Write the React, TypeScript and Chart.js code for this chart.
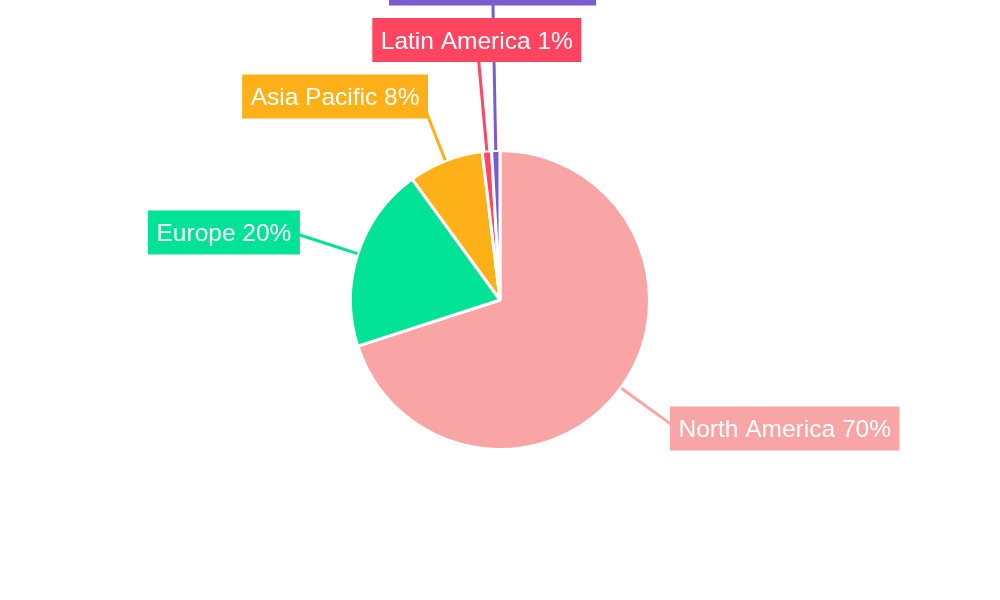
import { useEffect, useRef } from "react";
import { Chart, registerables } from "chart.js";

Chart.register(...registerables);

// ---- data ----
const categories = ["North America", "Europe", "Asia Pacific", "Latin America", "Rest of World"];
const shares = [70, 20, 8.1, 1, 0.9];
const sliceColors = ["#F9A5A5", "#00E396", "#FEB019", "#FF4560", "#775DD0"];

const LABEL_FONT = "24.5px 'Liberation Sans', Arial, Helvetica, sans-serif";

type Box = { x: number; y: number; w: number; h: number };

const outLabels = {
  id: "outLabels",
  afterDatasetsDraw(chart: any) {
    const ctx: CanvasRenderingContext2D = chart.ctx;
    const meta = chart.getDatasetMeta(0);
    const ds = chart.data.datasets[0];
    const values: number[] = ds.data as number[];
    const total = values.reduce((a, b) => a + b, 0);
    const colors: string[] = ds.backgroundColor as string[];
    const gap = 12.5;
    const h = 44;
    ctx.save();
    ctx.font = LABEL_FONT;

    const items = meta.data.map((arc: any, i: number) => {
      const p = arc.getProps(["x", "y", "startAngle", "endAngle", "outerRadius"], true);
      const a = (p.startAngle + p.endAngle) / 2;
      const R = p.outerRadius;
      const c = Math.cos(a);
      const s = Math.sin(a);
      const text = `${chart.data.labels[i]} ${Math.round((values[i] / total) * 100)}%`;
      const w = ctx.measureText(text).width + 17;
      let ax = p.x + (R + 62.5) * c;
      const ay = p.y + (R + 62.5) * s;
      const side = Math.abs(c) > 0.3;
      let bx: number;
      let cy: number;
      if (side) {
        const d = 1.5 + Math.max(0, 0.8 - Math.abs(c)) * 9;
        bx = c > 0 ? ax - d : ax - w + d;
        cy = ay + s * 6.6;
      } else {
        ax = ax + c * w * 0.25;
        bx = ax - w / 2;
        cy = ay;
      }
      const box: Box = { x: bx, y: cy - h / 2, w, h };
      return {
        text,
        color: colors[i],
        sx: p.x + (R + 0.5) * c,
        sy: p.y + (R + 0.5) * s,
        ax,
        ay,
        up: s < 0,
        box,
      };
    });

    // resolve overlaps by shifting vertically
    const overlaps = (b1: Box, b2: Box) =>
      b1.x < b2.x + b2.w && b2.x < b1.x + b1.w && b1.y < b2.y + b2.h + gap && b2.y < b1.y + b1.h + gap;
    for (let i = 0; i < items.length; i++) {
      let guard = 0;
      let moved = true;
      while (moved && guard < 50) {
        moved = false;
        guard++;
        for (let j = 0; j < i; j++) {
          const b = items[i].box;
          const o = items[j].box;
          if (overlaps(b, o)) {
            const oldY = b.y;
            b.y = items[i].up ? o.y - gap - b.h : o.y + o.h + gap;
            items[i].ay += b.y - oldY;
            moved = true;
          }
        }
      }
    }

    // leader lines
    items.forEach((it: any) => {
      ctx.beginPath();
      ctx.moveTo(it.sx, it.sy);
      ctx.lineTo(it.ax, it.ay);
      ctx.strokeStyle = it.color;
      ctx.lineWidth = 3;
      ctx.stroke();
    });

    // boxes and text
    items.forEach((it: any) => {
      const b = it.box;
      ctx.fillStyle = it.color;
      ctx.fillRect(b.x, b.y, b.w, b.h);
      ctx.fillStyle = "#ffffff";
      ctx.textAlign = "left";
      ctx.textBaseline = "alphabetic";
      ctx.fillText(it.text, b.x + 8.5, b.y + b.h / 2 + 8.7);
    });
    ctx.restore();
  },
};

export default function App() {
  const canvasRef = useRef<HTMLCanvasElement | null>(null);

  useEffect(() => {
    if (!canvasRef.current) return;
    const chart = new Chart(canvasRef.current, {
      type: "pie",
      data: {
        labels: categories,
        datasets: [
          {
            data: shares,
            backgroundColor: sliceColors,
            borderColor: "#ffffff",
            borderWidth: 3,
            radius: 149.5,
          } as any,
        ],
      },
      options: {
        responsive: false,
        animation: false,
        events: [],
        radius: 149.5,
        layout: { padding: 0 },
        plugins: {
          legend: { display: false },
          tooltip: { enabled: false },
        },
      } as any,
      plugins: [outLabels],
    });
    return () => chart.destroy();
  }, []);

  return (
    <div style={{ position: "fixed", left: 0, top: 0, width: 1000, height: 600, background: "#ffffff" }}>
      <canvas ref={canvasRef} width={1000} height={600} style={{ width: 1000, height: 600, display: "block" }} />
    </div>
  );
}
